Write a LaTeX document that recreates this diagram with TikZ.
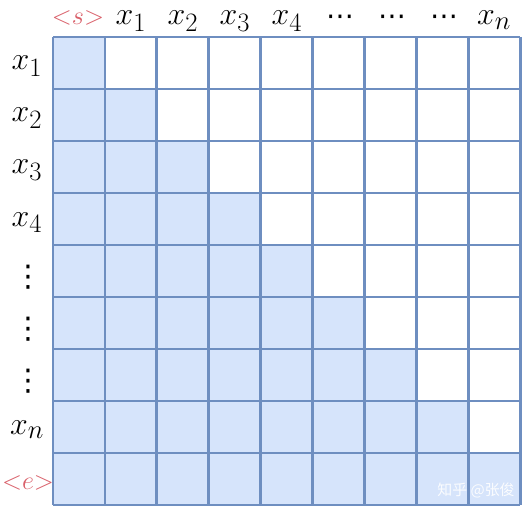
\documentclass[tikz,border=0pt]{standalone}
\usepackage{graphicx}
\usepackage{fontspec}
\newfontfamily\cjk{Noto Sans CJK SC}
\newfontfamily\dejavu{DejaVu Sans}
\definecolor{gridline}{HTML}{6E8EC0}
\definecolor{cellfill}{HTML}{D6E4FB}
\definecolor{tokred}{HTML}{D9606A}
\newcommand\biglbl[1]{\scalebox{1.286}{$#1$}}
\newcommand\toklbl[1]{\scalebox{1.06}{$#1$}}
\begin{document}
\begin{tikzpicture}[x=1bp,y=-1bp,
  lab/.style={font=\fontsize{24.88}{30}\selectfont, inner sep=0pt, anchor=base},
  dotlab/.style={font=\dejavu\fontsize{30}{34}\selectfont, inner sep=0pt, anchor=center},
  hdots/.style={font=\dejavu\fontsize{28}{32}\selectfont, inner sep=0pt, anchor=base},
  tok/.style={lab, text=tokred},
  gl/.style={draw=gridline, line width=2.8pt},
  wm/.style={font=\cjk\fontsize{15}{17}\selectfont, text=white, opacity=0.9, inner sep=0pt}]
\useasboundingbox (0,0) rectangle (532,514);
% shaded cells
\foreach \r in {0,...,8}{
  \foreach \c in {0,...,\r}{
    \fill[cellfill] (53+51.9*\c,37+52*\r) rectangle ++(51.9,52);
  }
}
% grid lines
\foreach \i in {0,...,9}{
  \draw[gl] (53+51.9*\i,37) -- (53+51.9*\i,505);
  \draw[gl] (53,37+52*\i) -- (520,37+52*\i);
}
% column labels
\node[tok] (cs) at (78,25) {\toklbl{{<}s{>}}};
\node[lab] (c1) at (131,25) {\biglbl{x_1}};
\node[lab] (c2) at (183,25) {\biglbl{x_2}};
\node[lab] (c3) at (235,25) {\biglbl{x_3}};
\node[lab] (c4) at (287,25) {\biglbl{x_4}};
\node[hdots] (c5) at (340,26) {⋯};
\node[hdots] (c6) at (392,26) {⋯};
\node[hdots] (c7) at (444,26) {⋯};
\node[lab] (cn) at (494,25) {\biglbl{x_n}};
% row labels
\node[lab] (r1) at (27,70) {\biglbl{x_1}};
\node[lab] (r2) at (27,122) {\biglbl{x_2}};
\node[lab] (r3) at (27,174) {\biglbl{x_3}};
\node[lab] (r4) at (27,226) {\biglbl{x_4}};
\node[dotlab] (r5) at (28,277) {⋮};
\node[dotlab] (r6) at (28,329) {⋮};
\node[dotlab] (r7) at (28,381) {⋮};
\node[lab] (rn) at (27,434) {\biglbl{x_n}};
\node[tok] (re) at (28,489) {\toklbl{{<}e{>}}};
% watermark
\node[wm] (wmark) at (476,490) {知乎 @张俊};
\end{tikzpicture}
\end{document}
